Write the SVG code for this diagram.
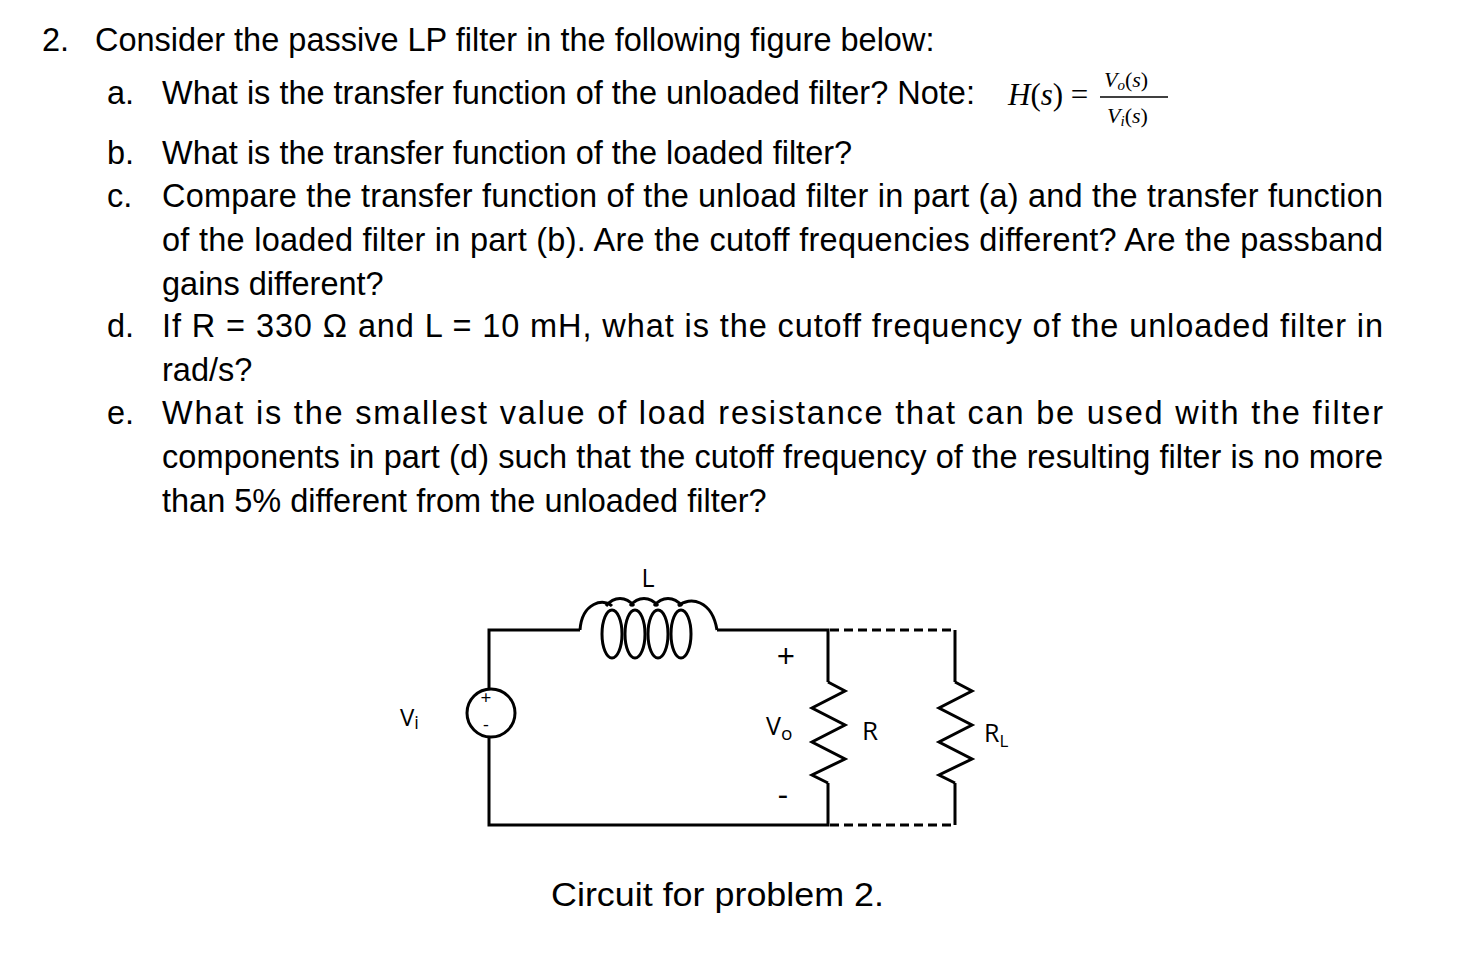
<svg xmlns="http://www.w3.org/2000/svg" width="1458" height="970" viewBox="0 0 1458 970">
<style>
.t{font-family:"Liberation Sans",Arial,sans-serif;font-size:32.5px;fill:#000}
.m{font-family:"Liberation Serif","Times New Roman",serif;font-style:italic;fill:#000}
.c{font-family:"Open Sans","DejaVu Sans",sans-serif;fill:#000}
.w{stroke:#000;stroke-width:3;fill:none;stroke-linejoin:miter}
.d{stroke:#000;stroke-width:3;fill:none;stroke-dasharray:9,5}
</style>
<rect width="1458" height="970" fill="#fff"/>
<g id="text">
<text class="t" x="42" y="51">2.</text>
<text class="t" x="95" y="51">Consider the passive LP filter in the following figure below:</text>
<text class="t" x="107" y="104">a.</text>
<text class="t" x="162" y="104">What is the transfer function of the unloaded filter? Note:</text>
<text class="m" x="1008" y="105" font-size="31">H<tspan font-style="normal">(</tspan>s<tspan font-style="normal">) =</tspan></text>
<text class="m" x="1104" y="87" font-size="22">V<tspan font-size="15" dy="3">o</tspan><tspan dy="-3" font-style="normal">(</tspan>s<tspan font-style="normal">)</tspan></text>
<line x1="1100" y1="97" x2="1168" y2="97" stroke="#000" stroke-width="1.5"/>
<text class="m" x="1107" y="123" font-size="22">V<tspan font-size="15" dy="3">i</tspan><tspan dy="-3" font-style="normal">(</tspan>s<tspan font-style="normal">)</tspan></text>
<text class="t" x="107" y="164">b.</text>
<text class="t" x="162" y="164">What is the transfer function of the loaded filter?</text>
<text class="t" x="107" y="207">c.</text>
<text class="t" x="162" y="207" textLength="1221" lengthAdjust="spacing">Compare the transfer function of the unload filter in part (a) and the transfer function</text>
<text class="t" x="162" y="251" textLength="1221" lengthAdjust="spacing">of the loaded filter in part (b). Are the cutoff frequencies different? Are the passband</text>
<text class="t" x="162" y="295">gains different?</text>
<text class="t" x="107" y="337">d.</text>
<text class="t" x="162" y="337" textLength="1221" lengthAdjust="spacing">If R = 330 Ω and L = 10 mH, what is the cutoff frequency of the unloaded filter in</text>
<text class="t" x="162" y="381">rad/s?</text>
<text class="t" x="107" y="424">e.</text>
<text class="t" x="162" y="424" textLength="1221" lengthAdjust="spacing">What is the smallest value of load resistance that can be used with the filter</text>
<text class="t" x="162" y="468" textLength="1221" lengthAdjust="spacing">components in part (d) such that the cutoff frequency of the resulting filter is no more</text>
<text class="t" x="162" y="512">than 5% different from the unloaded filter?</text>
<text class="t" x="551" y="906" textLength="333" lengthAdjust="spacingAndGlyphs">Circuit for problem 2.</text>
</g>
<g id="connectors">
<path class="w" d="M580,630 H489 V688 M489,738 V825 H828 V783 M828,682 V630 H717"/>
<path class="d" d="M830,630 H955 M830,825 H955"/>
<path class="w" d="M955,630 V682 M955,783 V825"/>
</g>
<g id="source">
<circle cx="491" cy="713" r="24" class="w"/>
<text class="c" x="486" y="704" font-size="19" text-anchor="middle">+</text>
<text class="c" x="486" y="731" font-size="18" text-anchor="middle">-</text>
<text class="c" x="400" y="726" font-size="24">V<tspan font-size="18" dy="3">i</tspan></text>
</g>
<g id="inductor">
<path class="w" d="M580,630 C582,602 604,598 612,606 M606,606 C614,596 626,596 634,606 M630,606 C638,596 650,596 658,606 M654,606 C662,596 674,596 682,606 M678,606 C690,596 712,600 717,630"/>
<ellipse cx="612" cy="634" rx="10" ry="24" class="w"/>
<ellipse cx="635" cy="634" rx="10" ry="24" class="w"/>
<ellipse cx="658" cy="634" rx="10" ry="24" class="w"/>
<ellipse cx="681" cy="634" rx="10" ry="24" class="w"/>
<text class="c" x="648" y="587" font-size="25" text-anchor="middle">L</text>
</g>
<g id="R">
<path class="w" d="M828,682 L845,691 L812,708 L845,725 L812,742 L845,759 L812,775 L828,783"/>
<text class="c" x="870" y="740" font-size="26" text-anchor="middle">R</text>
<text class="c" x="786" y="668" font-size="32" text-anchor="middle">+</text>
<text class="c" x="783" y="806" font-size="32" text-anchor="middle">-</text>
<text class="c" x="766" y="735" font-size="25">V<tspan font-size="19" dy="5">o</tspan></text>
</g>
<g id="RL">
<path class="w" d="M955,682 L972,691 L939,708 L972,725 L939,742 L972,759 L939,775 L955,783"/>
<text class="c" x="984" y="742" font-size="25">R<tspan font-size="17" dy="5">L</tspan></text>
</g>
</svg>
